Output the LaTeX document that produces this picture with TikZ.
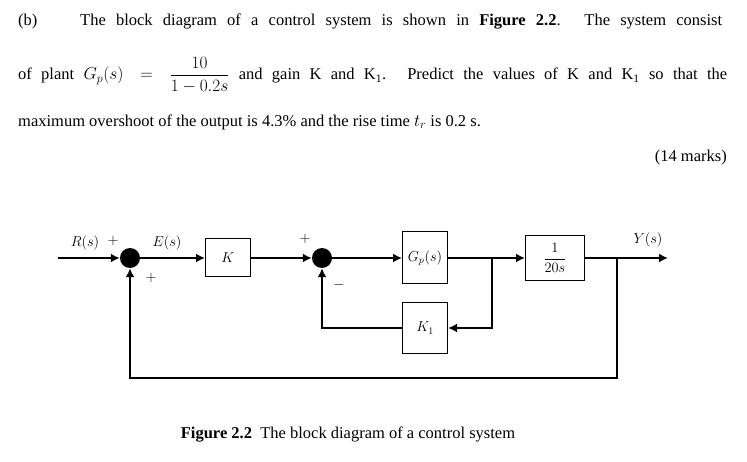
\documentclass[tikz,border=0pt]{standalone}
\usepackage{amsmath}
\usepackage{fontspec}
\setmainfont{Liberation Serif}
\usetikzlibrary{arrows.meta}
\tikzset{
  block/.style={draw, line width=1pt, minimum width=45pt, minimum height=38pt, font=\fontsize{14.4}{16}\selectfont},
  sumpt/.style={circle, fill, minimum size=20pt, inner sep=0pt},
  sig/.style={line width=2.2pt, -{Latex[length=9pt, width=9pt]}},
  lbl/.style={font=\fontsize{14.4}{16}\selectfont},
  para/.style={anchor=west, inner sep=0pt, align=justify, font=\fontsize{16.5}{19}\selectfont}
}
\begin{document}
\begin{tikzpicture}[x=1pt, y=-1pt]
        \useasboundingbox (0,0) rectangle (747,462);

        % Question text
        \node[para] (Qb) at (18,22) {(b)};
        \node[para, text width=642pt] (L1) at (80,22) {{\parfillskip=0pt The block diagram of a control system is shown in \textbf{Figure 2.2}. The system consist\par}};
        \node[para, text width=709pt] (L2) at (18,75) {{\parfillskip=0pt of plant $G_p(s)=\dfrac{10}{1-0.2s}$ and gain K and K\textsubscript{1}. Predict the values of K and K\textsubscript{1} so that the\par}};
        \node[para] (L3) at (18,122) {maximum overshoot of the output is 4.3\% and the rise time $t_r$ is 0.2 s.};
        \node[para, anchor=east] (Mk) at (727,158) {(14 marks)};

        % Blocks
        \node[sumpt] (S1) at (130,258) {};
        \node[sumpt] (S2) at (322,258) {};
        \node[block] (K) at (228,258) {$K$};
        \node[block, minimum height=52pt] (G) at (425,258) {$G_p(s)$};
        \node[block, minimum width=59pt, minimum height=45pt] (I) at (555,258) {$\dfrac{1}{20s}$};
        \node[block, minimum height=50pt] (K1) at (425,328) {$K_1$};

        % Coordinates
        \coordinate (In) at (58,258);
        \coordinate (Out) at (668,258);
        \coordinate (B1) at (492,258);
        \coordinate (B2) at (617,258);
        \coordinate (Bot) at (130,378);

        % Signals
        \draw[sig] (In) -- (S1.west);
        \draw[sig] (S1.east) -- (K.west);
        \draw[sig] (K.east) -- (S2.west);
        \draw[sig] (S2.east) -- (G.west);
        \draw[sig] (G.east) -- (I.west);
        \draw[sig] (I.east) -- (Out);
        \draw[sig] (B1) |- (K1.east);
        \draw[sig] (K1.west) -| (S2.south);
        \draw[sig] (B2) |- (Bot) -- (S1.south);

        % Labels
        \node[lbl] (Rl) at (85,243) {$R(s)$};
        \node[lbl] (P1) at (113,241) {$+$};
        \node[lbl] (P2) at (151,278) {$+$};
        \node[lbl] (El) at (167,243) {$E(s)$};
        \node[lbl] (P3) at (305,239) {$+$};
        \node[lbl] (M1) at (339,285) {$-$};
        \node[lbl] (Yl) at (648,240) {$Y(s)$};

        % Caption
        \node[para, anchor=center] (Cap) at (348,435) {\textbf{Figure 2.2}\enspace The block diagram of a control system};
\end{tikzpicture}
\end{document}
